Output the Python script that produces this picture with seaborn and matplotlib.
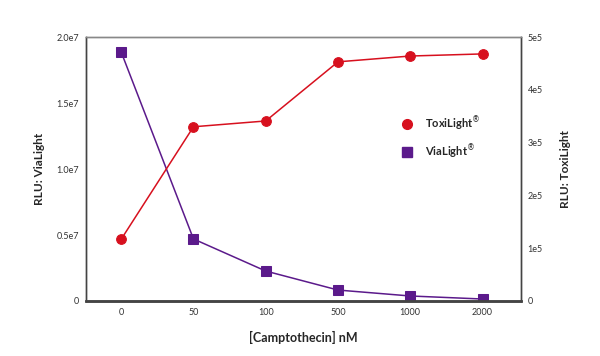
import pandas as pd
import matplotlib.pyplot as plt
import seaborn as sns
from matplotlib.lines import Line2D

conc = ['0', '50', '100', '500', '1000', '2000']
vialight = [1.886e7, 0.47e7, 0.227e7, 0.083e7, 0.038e7, 0.015e7]
toxilight = [117e3, 330e3, 341e3, 453e3, 464e3, 468e3]

red = '#d7101e'
purple = '#5b1a8b'

df = pd.DataFrame({'pos': range(len(conc)), 'conc': conc,
                   'ViaLight': vialight, 'ToxiLight': toxilight})

sns.set_style('white')
plt.rcParams['font.family'] = ['Lato', 'DejaVu Sans']

fig = plt.figure(figsize=(6, 3.56), dpi=100)
ax = fig.add_axes([0.143, 0.1545, 0.725, 0.7415])
ax2 = ax.twinx()

sns.lineplot(data=df, x='pos', y='ViaLight', ax=ax, color=purple, marker='s',
             markersize=7.5, markeredgecolor=purple, linewidth=1.1)
sns.lineplot(data=df, x='pos', y='ToxiLight', ax=ax2, color=red, marker='o',
             markersize=7, markeredgecolor=red, linewidth=1.1)

ax.set_xlim(-0.49, 5.53)
ax.set_ylim(0, 2.0e7)
ax2.set_ylim(0, 5e5)
ax.set_xticks(range(len(conc)))
ax.set_xticklabels(conc)
ax.set_yticks([0, 0.5e7, 1.0e7, 1.5e7, 2.0e7])
ax.set_yticklabels(['0', '0.5e7', '1.0e7', '1.5e7', '2.0e7'])
ax2.set_yticks([0, 1e5, 2e5, 3e5, 4e5, 5e5])
ax2.set_yticklabels(['0', '1e5', '2e5', '3e5', '4e5', '5e5'])

for a in (ax, ax2):
    a.tick_params(length=0, labelsize=6.5, labelcolor='#333333', pad=5)
    for s in a.spines.values():
        s.set_color('#444444')
        s.set_linewidth(1.0)
ax.spines['bottom'].set_linewidth(1.8)
ax2.spines['bottom'].set_linewidth(1.8)
ax.spines['top'].set_color('#888888')
ax2.spines['top'].set_color('#888888')

ax.set_xlabel('[Camptothecin] nM', fontsize=9, fontweight='bold', labelpad=10)
ax.set_ylabel('RLU: ViaLight', fontsize=8.5, fontweight='bold', labelpad=8)
ax2.set_ylabel('RLU: ToxiLight', fontsize=8.5, fontweight='bold', labelpad=12)

handles = [Line2D([], [], color=red, marker='o', linestyle='none', markersize=7),
           Line2D([], [], color=purple, marker='s', linestyle='none', markersize=7.5)]
leg = ax2.legend(handles, ['ToxiLight$^{®}$', 'ViaLight$^{®}$'],
                 loc='upper left', bbox_to_anchor=(0.69, 0.745), frameon=False,
                 prop={'size': 8, 'weight': 'bold'}, labelspacing=0.9,
                 handletextpad=0.6)

plt.savefig('out.png', dpi=100)
